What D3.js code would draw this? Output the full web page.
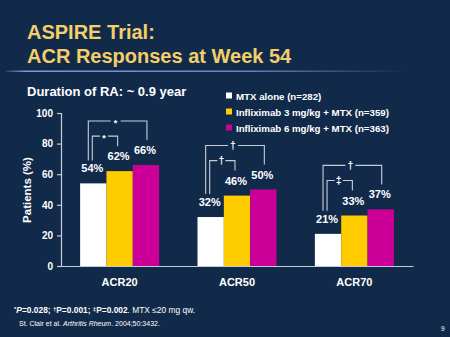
<!DOCTYPE html>
<html><head><meta charset="utf-8">
<script src="https://cdn.jsdelivr.net/npm/d3@7"></script>
<style>
html,body{margin:0;padding:0;background:#122a4a;}
svg{display:block;}
text{font-family:"Liberation Sans",Arial,sans-serif;}
</style></head>
<body>
<script>
const categories = ["ACR20", "ACR50", "ACR70"];
const seriesNames = ["MTX alone (n=282)", "Infliximab 3 mg/kg + MTX (n=359)", "Infliximab 6 mg/kg + MTX (n=363)"];
const seriesColors = ["#ffffff", "#ffcc00", "#cc0099"];
const mtxAlone = [54, 32, 21];
const inflix3 = [62, 46, 33];
const inflix6 = [66, 50, 37];
const yTicks = [0, 20, 40, 60, 80, 100];
const outerSymbols = ["*", "\u2020", "\u2020"];
const innerSymbols = ["*", "\u2020", "\u2021"];

const W = 450, H = 337;
const svg = d3.select("body").append("svg").attr("width", W).attr("height", H);
svg.append("rect").attr("width", W).attr("height", H).attr("fill", "#122a4a");

// Title
const gold = "#f2cf6a";
svg.append("text").attr("x", 27).attr("y", 39).attr("fill", gold)
  .attr("font-size", 20).attr("font-weight", "bold").text("ASPIRE Trial:");
svg.append("text").attr("x", 27).attr("y", 63).attr("fill", gold)
  .attr("font-size", 20).attr("font-weight", "bold").text("ACR Responses at Week 54");
const defs = svg.append("defs");
const grad = defs.append("linearGradient").attr("id", "tl").attr("x1", "0").attr("x2", "1").attr("y1", "0").attr("y2", "0");
[[0, 0.2], [0.05, 1], [0.6, 0.8], [1, 0]].forEach(([o, a]) =>
  grad.append("stop").attr("offset", o).attr("stop-color", "#7d9ad6").attr("stop-opacity", a));
svg.append("rect").attr("x", 6).attr("y", 70.5).attr("width", 400).attr("height", 1.5).attr("fill", "url(#tl)");

svg.append("text").attr("x", 27).attr("y", 96).attr("fill", "#fff")
  .attr("font-size", 13).attr("font-weight", "bold").text("Duration of RA: ~ 0.9 year");

// Scales
const x0 = d3.scaleBand().domain(categories).range([61, 413]).paddingInner(0.327).paddingOuter(0.163);
const x1 = d3.scaleBand().domain([0, 1, 2]).range([0, x0.bandwidth()]);
const y = d3.scaleLinear().domain([0, 100]).range([266, 113]);

const axisColor = "#c6cdd8";
// Y axis
const yAxis = svg.append("g").attr("transform", "translate(61,0)")
  .call(d3.axisLeft(y).tickValues(yTicks).tickSize(4).tickPadding(4));
yAxis.select(".domain").attr("stroke", axisColor).attr("stroke-width", 1.2);
yAxis.selectAll(".tick line").attr("stroke", axisColor).attr("stroke-width", 1.2);
yAxis.selectAll(".tick text").attr("fill", "#fff").attr("font-size", 10).attr("font-weight", "bold")
  .attr("font-family", "Liberation Sans, Arial, sans-serif");

svg.append("text").attr("transform", "translate(31,190) rotate(-90)").attr("text-anchor", "middle")
  .attr("fill", "#fff").attr("font-size", 11.5).attr("font-weight", "bold").text("Patients (%)");

// Bars
const data = categories.map((c, i) => ({ cat: c, vals: [mtxAlone[i], inflix3[i], inflix6[i]], i }));
const groups = svg.selectAll("g.grp").data(data).enter().append("g").attr("class", "grp")
  .attr("transform", d => `translate(${x0(d.cat)},0)`);
groups.selectAll("rect").data(d => d.vals.map((v, k) => ({ v, k }))).enter().append("rect")
  .attr("x", d => x1(d.k)).attr("width", x1.bandwidth())
  .attr("y", d => y(d.v)).attr("height", d => y(0) - y(d.v))
  .attr("fill", d => seriesColors[d.k]);
groups.selectAll("text.val").data(d => d.vals.map((v, k) => ({ v, k }))).enter().append("text")
  .attr("class", "val").attr("x", d => x1(d.k) + x1.bandwidth() / 2 - 1).attr("y", d => y(d.v) - 11)
  .attr("text-anchor", "middle").attr("fill", "#fff").attr("font-size", 11).attr("font-weight", "bold")
  .text(d => d.v + "%");

// X axis
const xAxis = svg.append("g").attr("transform", `translate(0,${y(0)})`)
  .call(d3.axisBottom(x0).tickSize(0).tickPadding(12));
xAxis.select(".domain").attr("stroke", axisColor).attr("stroke-width", 1.2);
xAxis.selectAll(".tick text").attr("fill", "#fff").attr("font-size", 11).attr("font-weight", "bold")
  .attr("font-family", "Liberation Sans, Arial, sans-serif");

// Significance brackets
const bl = "#c6cdd8";
data.forEach(d => {
  const cx = k => x0(d.cat) + x1(k) + x1.bandwidth() / 2;
  const base = k => y(d.vals[k]) - 11;
  const g = svg.append("g").attr("stroke", bl).attr("stroke-width", 1.1).attr("fill", "none");
  function bracket(xl, xr, top, botL, botR, sym, symShift, gapHalf) {
    const xs = (xl + xr) / 2 + symShift;
    g.append("path").attr("d", `M${xl},${botL}V${top}H${xs - gapHalf}M${xs + gapHalf},${top}H${xr}V${botR}`);
    svg.append("text").attr("x", xs).attr("y", top + (sym === "*" ? 5 : 3.5)).attr("text-anchor", "middle")
      .attr("fill", "#fff").attr("font-size", sym === "*" ? 9 : 10.5).attr("font-weight", "bold").text(sym);
  }
  const leftBot = base(0) - 12;
  const outerTop = y(d.vals[2]) - 44;
  const innerTop = y(d.vals[1]) - 35;
  bracket(cx(0) - 5, cx(2) + 1, outerTop, leftBot, base(2) - 14, outerSymbols[d.i], -2, 5);
  bracket(cx(0) - 1, cx(1) - 2, innerTop, leftBot, base(1) - 14, innerSymbols[d.i], -1, 4);
});

// Legend
const leg = svg.append("g");
seriesNames.forEach((n, k) => {
  const yy = 96 + k * 16;
  leg.append("rect").attr("x", 226).attr("y", yy - 3.5).attr("width", 6).attr("height", 6).attr("fill", seriesColors[k]);
  leg.append("text").attr("x", 236).attr("y", yy + 3.5).attr("fill", "#fff").attr("font-size", 9.7)
    .attr("font-weight", "bold").text(n);
});

// Footnotes
const fn = svg.append("text").attr("x", 14).attr("y", 313).attr("fill", "#fff").attr("font-size", 8.4);
function part(t, opts) {
  const s = fn.append("tspan").text(t);
  if (opts.b) s.attr("font-weight", "bold");
  if (opts.i) s.attr("font-style", "italic");
  if (opts.sup) s.attr("font-size", 6).attr("dy", opts.sup);
  if (opts.dy) s.attr("dy", opts.dy);
  return s;
}
part("*", { b: true, sup: -2 });
part("P", { b: true, i: true, dy: 2 });
part("=0.028; ", { b: true });
part("\u2020", { b: true, sup: -2 });
part("P", { b: true, dy: 2 });
part("=0.001; ", { b: true });
part("\u2021", { b: true, sup: -2 });
part("P", { b: true, dy: 2 });
part("=0.002", { b: true });
part(". MTX \u226420 mg qw.", {});

const ref = svg.append("text").attr("x", 19).attr("y", 325.5).attr("fill", "#fff").attr("font-size", 7);
ref.append("tspan").text("St. Clair et al. ");
ref.append("tspan").attr("font-style", "italic").text("Arthritis Rheum");
ref.append("tspan").text(". 2004;50:3432.");

svg.append("text").attr("x", 441).attr("y", 331).attr("fill", "#fff").attr("font-size", 6.5).text("9");
</script>
</body></html>
